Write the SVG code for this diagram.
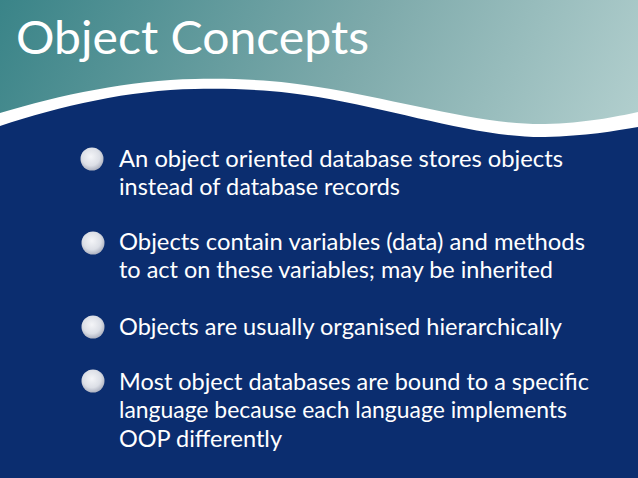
<svg xmlns="http://www.w3.org/2000/svg" width="638" height="478" viewBox="0 0 638 478">
  <defs>
    <linearGradient id="teal" gradientUnits="userSpaceOnUse" x1="0" y1="0" x2="560" y2="280">
      <stop offset="0" stop-color="#3a8488"/>
      <stop offset="0.55" stop-color="#7eaaab"/>
      <stop offset="1" stop-color="#b2cfce"/>
    </linearGradient>
    <radialGradient id="ball" cx="0.45" cy="0.4" r="0.65">
      <stop offset="0" stop-color="#f4f5f8"/>
      <stop offset="0.6" stop-color="#dcdfe6"/>
      <stop offset="1" stop-color="#a3a8b8"/>
    </radialGradient>
    <circle id="bullet" r="11.5" fill="url(#ball)"/>
  </defs>
  <style>
    .title { font-family: Lato, "Open Sans", "Liberation Sans", sans-serif; font-size: 47px; fill: #ffffff; }
    .body { font-family: Lato, "Open Sans", "Liberation Sans", sans-serif; font-size: 23px; fill: #ffffff; }
  </style>

  <rect width="638" height="478" fill="#ffffff"/>
  <path id="header" d="M0,0 H638 V112 C615,117 585,123 545,124 C480,125 400,100 318,87 C290,82 250,78 195,79 C130,80 60,95 0,113 Z" fill="url(#teal)"/>
  <path id="body-bg" d="M0,126 C60,106 130,90 195,89 C250,88 290,92 318,97 C400,111 480,138 545,137 C585,136 615,131 638,127 V478 H0 Z" fill="#0b2d6f"/>

  <text class="title" x="16" y="54" textLength="353" lengthAdjust="spacingAndGlyphs">Object Concepts</text>

  <g id="item1">
    <use href="#bullet" x="92" y="159"/>
    <text class="body" x="119" y="167" textLength="444" lengthAdjust="spacingAndGlyphs">An object oriented database stores objects</text>
    <text class="body" x="119" y="195" textLength="281" lengthAdjust="spacingAndGlyphs">instead of database records</text>
  </g>
  <g id="item2">
    <use href="#bullet" x="93" y="243"/>
    <text class="body" x="119" y="250" textLength="466" lengthAdjust="spacingAndGlyphs">Objects contain variables (data) and methods</text>
    <text class="body" x="119" y="278" textLength="434" lengthAdjust="spacingAndGlyphs">to act on these variables; may be inherited</text>
  </g>
  <g id="item3">
    <use href="#bullet" x="93" y="327"/>
    <text class="body" x="119" y="335" textLength="443" lengthAdjust="spacingAndGlyphs">Objects are usually organised hierarchically</text>
  </g>
  <g id="item4">
    <use href="#bullet" x="93" y="381"/>
    <text class="body" x="119" y="390" textLength="470" lengthAdjust="spacingAndGlyphs">Most object databases are bound to a specific</text>
    <text class="body" x="119" y="418" textLength="448" lengthAdjust="spacingAndGlyphs">language because each language implements</text>
    <text class="body" x="119" y="447" textLength="163" lengthAdjust="spacingAndGlyphs">OOP differently</text>
  </g>
</svg>
